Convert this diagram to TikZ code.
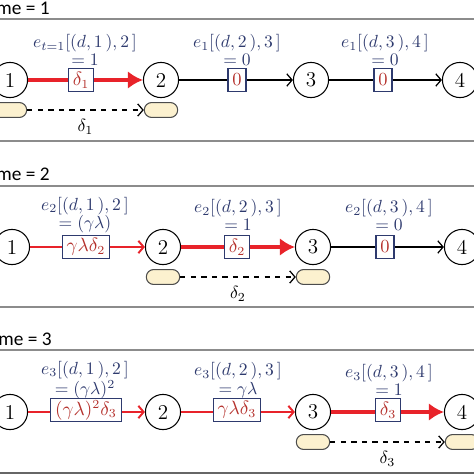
\documentclass[tikz,border=0pt]{standalone}
\usepackage{amsmath}
\usepackage{fontspec}
\setsansfont{Carlito}
\usepackage{tikz}
\usetikzlibrary{arrows.meta}
\definecolor{navy}{HTML}{2E3A6E}
\definecolor{boxred}{HTML}{B5312C}
\definecolor{flowred}{HTML}{E8232A}
\definecolor{pillfill}{HTML}{FCF1CF}
\tikzset{
    vertex/.style={circle, draw=black, line width=.6pt, fill=white, minimum size=20pt, inner sep=0pt, font=\fontsize{12}{12}\selectfont},
    flowbox/.style={draw=navy, fill=white, line width=.7pt, minimum height=13pt, minimum width=10pt, inner xsep=2.5pt, inner ysep=0pt, text=boxred, font=\fontsize{10.5}{12}\selectfont},
    pill/.style={draw=black!70, fill=pillfill, line width=.6pt, rounded corners=4.2pt, minimum width=19pt, minimum height=8.5pt, inner sep=0pt},
    elabel/.style={text=navy, align=center, inner sep=0pt, font=\fontsize{10}{10.5}\selectfont},
    dlabel/.style={inner sep=0pt, font=\fontsize{10}{10}\selectfont},
    title/.style={inner sep=0pt, font=\sffamily\fontsize{11}{12}\selectfont},
    idle/.style={draw=black, line width=.7pt},
    weak/.style={draw=flowred, line width=1.1pt},
    strong/.style={draw=flowred, line width=2.8pt},
    tip/.style={-{Straight Barb[length=3pt,width=7pt]}},
    bigtip/.style={-{Latex[length=8.5pt,width=10pt]}},
    carry/.style={draw=black, line width=.7pt, dashed, -{Straight Barb[length=3pt,width=7pt]}},
    panel/.style={draw=black!45, line width=.9pt},
}
\begin{document}
\begin{tikzpicture}[x=0.02cm, y=-0.02cm]
    \useasboundingbox (0,0) rectangle (474,474);

    % time = 1
    \node[title, anchor=base east] (t1) at (50,14) {Time = 1};
    \draw[panel] (0,19)--(474,19);
    \draw[panel] (0,141)--(474,141);

    \node[vertex] (a1) at (10,80) {1};
    \node[vertex] (a2) at (161,80) {2};
    \node[vertex] (a3) at (311,80) {3};
    \node[vertex] (a4) at (460,80) {4};

    \node[flowbox] (ab12) at (81,80) {$\delta_1$};
    \node[flowbox] (ab23) at (237,80) {0};
    \node[flowbox] (ab34) at (383,80) {0};

    \draw[strong] (a1)--(ab12);
    \draw[strong, bigtip] (ab12)--(a2);
    \draw[idle] (a2)--(ab23);
    \draw[idle, tip] (ab23)--(a3);
    \draw[idle] (a3)--(ab34);
    \draw[idle, tip] (ab34)--(a4);

    \node[elabel] (al12) at (85,50) {$e_{t=1}[(d,1\,),2\,]$\\$=1$};
    \node[elabel] (al23) at (237,50) {$e_{1}[(d,2\,),3\,]$\\$=0$};
    \node[elabel] (al34) at (385,50) {$e_{1}[(d,3\,),4\,]$\\$=0$};

    \node[pill] (ap1) at (10,110) {};
    \node[pill] (ap2) at (161,110) {};
    \draw[carry] (ap1)--node[dlabel, below=5pt]{$\delta_1$}(ap2);

    % time = 2
    \node[title, anchor=base east] (t2) at (50,180) {Time = 2};
    \draw[panel] (0,186)--(474,186);
    \draw[panel] (0,307)--(474,307);

    \node[vertex] (b1) at (12,247) {1};
    \node[vertex] (b2) at (163,247) {2};
    \node[vertex] (b3) at (313,247) {3};
    \node[vertex] (b4) at (462,247) {4};

    \node[flowbox] (bb12) at (86,247) {$\gamma\lambda\delta_2$};
    \node[flowbox] (bb23) at (237,247) {$\delta_2$};
    \node[flowbox] (bb34) at (385,247) {0};

    \draw[weak] (b1)--(bb12);
    \draw[weak, tip] (bb12)--(b2);
    \draw[strong] (b2)--(bb23);
    \draw[strong, bigtip] (bb23)--(b3);
    \draw[idle] (b3)--(bb34);
    \draw[idle, tip] (bb34)--(b4);

    \node[elabel] (bl12) at (85,215) {$e_{2}[(d,1\,),2\,]$\\$=(\gamma\lambda)$};
    \node[elabel] (bl23) at (238,215) {$e_{2}[(d,2\,),3\,]$\\$=1$};
    \node[elabel] (bl34) at (389,215) {$e_{2}[(d,3\,),4\,]$\\$=0$};

    \node[pill] (bp2) at (163,277) {};
    \node[pill] (bp3) at (313,277) {};
    \draw[carry] (bp2)--node[dlabel, below=5pt]{$\delta_2$}(bp3);

    % time = 3
    \node[title, anchor=base east] (t3) at (52,345) {Time = 3};
    \draw[panel] (0,350)--(474,350);
    \draw[panel, line width=1.6pt, draw=black!60] (0,473)--(474,473);

    \node[vertex] (c1) at (10,412) {1};
    \node[vertex] (c2) at (163,412) {2};
    \node[vertex] (c3) at (313,412) {3};
    \node[vertex] (c4) at (462,412) {4};

    \node[flowbox] (cb12) at (86,410) {$(\gamma\lambda)^2\delta_3$};
    \node[flowbox] (cb23) at (237,410) {$\gamma\lambda\delta_3$};
    \node[flowbox] (cb34) at (388,410) {$\delta_3$};

    \draw[weak] (c1)--(c1-|cb12.west);
    \draw[weak, tip] (c2-|cb12.east)--(c2);
    \draw[weak] (c2)--(c2-|cb23.west);
    \draw[weak, tip] (c3-|cb23.east)--(c3);
    \draw[strong] (c3)--(c3-|cb34.west);
    \draw[strong, bigtip] (c4-|cb34.east)--(c4);

    \node[elabel] (cl12) at (85,380) {$e_{3}[(d,1\,),2\,]$\\$=(\gamma\lambda)^2$};
    \node[elabel] (cl23) at (238,380) {$e_{3}[(d,2\,),3\,]$\\$=\gamma\lambda$};
    \node[elabel] (cl34) at (389,380) {$e_{3}[(d,3\,),4\,]$\\$=1$};

    \node[pill] (cp3) at (313,442) {};
    \node[pill] (cp4) at (462,442) {};
    \draw[carry] (cp3)--node[dlabel, below=5pt]{$\delta_3$}(cp4);
\end{tikzpicture}
\end{document}
